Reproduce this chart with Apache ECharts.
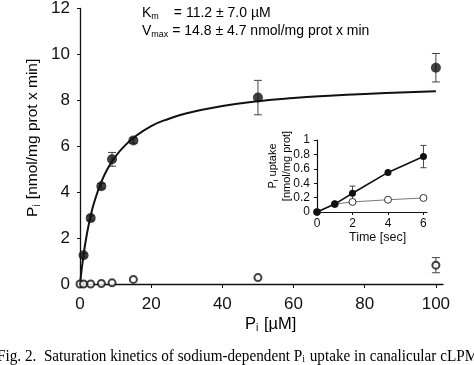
<!DOCTYPE html>
<html><head><meta charset="utf-8">
<script src="https://cdn.jsdelivr.net/npm/echarts@6/dist/echarts.min.js"></script>
<style>html,body{margin:0;padding:0;background:#fff}#c{width:474px;height:365px}</style>
</head><body><div id="c"></div>
<script>
// Main plot: Pi uptake vs Pi concentration
const substrateUM = [1, 3, 6, 9, 15, 50, 100];
const uptakeNa = [1.25, 2.87, 4.26, 5.43, 6.25, 8.12, 9.42];
const errNa = [0.08, 0.1, 0.12, 0.3, 0.12, 0.75, 0.62];
const openUM = [0, 1, 3, 6, 9, 15, 50, 100];
const uptakeNoNa = [0, 0, 0, 0.02, 0.05, 0.2, 0.28, 0.82];
const errNoNa = [0, 0, 0, 0, 0, 0, 0, 0.33];
const fitX = [0, 1, 2, 3, 4, 6, 8, 10, 12, 15, 20, 25, 30, 40, 50, 60, 70, 80, 90, 100];
const fitY = [0, 1.27, 2.23, 2.97, 3.56, 4.45, 5.09, 5.56, 5.93, 6.36, 6.88, 7.2, 7.44, 7.75, 7.96, 8.1, 8.2, 8.28, 8.34, 8.4];
const mainXTicks = [0, 20, 40, 60, 80, 100];
// Inset: time course
const timeSec = [0, 1, 2, 4, 6];
const insetNa = [0, 0.11, 0.26, 0.55, 0.77];
const insetNaErr = [0, 0, 0.1, 0, 0.155];
const insetNoNa = [0, 0.11, 0.14, 0.17, 0.195];
const insetXTicks = [0, 2, 4, 6];

const chart = echarts.init(document.getElementById('c'), null, {renderer: 'canvas'});
const FF = 'Liberation Sans, Arial, sans-serif';
const SERIF = 'Liberation Serif, Times New Roman, serif';

function errBars(xs, ys, es, xi, yi, half, color) {
  return {
    type: 'custom', xAxisIndex: xi, yAxisIndex: yi, z: 1, silent: true,
    data: xs.map((x, i) => [x, ys[i], es[i]]).filter(d => d[2] > 0),
    renderItem: function (params, api) {
      const x = api.value(0), y = api.value(1), e = api.value(2);
      const top = api.coord([x, y + e]);
      const bot = api.coord([x, y - e]);
      const st = {stroke: color, lineWidth: 1};
      return {type: 'group', children: [
        {type: 'line', shape: {x1: top[0], y1: top[1], x2: bot[0], y2: bot[1]}, style: st},
        {type: 'line', shape: {x1: top[0] - half, y1: top[1], x2: top[0] + half, y2: top[1]}, style: st},
        {type: 'line', shape: {x1: bot[0] - half, y1: bot[1], x2: bot[0] + half, y2: bot[1]}, style: st}
      ]};
    }
  };
}

const kmRich = {
  a: {fontFamily: FF, fontSize: 14, color: '#111'},
  s: {fontFamily: FF, fontSize: 9, color: '#111', padding: [7, 0, 0, 0]},
  k: {fontFamily: FF, fontSize: 9, color: '#111', padding: [7, 15, 0, 0]}
};
const insetRich = {
  a: {fontFamily: FF, fontSize: 11, color: '#111', lineHeight: 14},
  s: {fontFamily: FF, fontSize: 7.5, color: '#111', padding: [5, 0, 0, 0], lineHeight: 14}
};
const capRich = {
  a: {fontFamily: SERIF, fontSize: 16, color: '#222'},
  s: {fontFamily: SERIF, fontSize: 10.5, color: '#222', padding: [6, 1, 0, 0]}
};

const option = {
  backgroundColor: '#fff',
  animation: false,
  grid: [
    {left: 80, right: 31, top: 7, bottom: 81},
    {left: 317, right: 47, top: 140, bottom: 153}
  ],
  xAxis: [
    {gridIndex: 0, type: 'value', min: 0, max: 102,
      axisLine: {lineStyle: {color: '#111', width: 1.3}},
      axisTick: {customValues: mainXTicks, length: 4, lineStyle: {color: '#111'}},
      axisLabel: {customValues: mainXTicks, fontFamily: FF, fontSize: 17, color: '#111', margin: 12},
      splitLine: {show: false}},
    {gridIndex: 1, type: 'value', min: 0, max: 6.2,
      axisLine: {lineStyle: {color: '#111', width: 1.2}},
      axisTick: {customValues: insetXTicks, length: 3, lineStyle: {color: '#111'}},
      axisLabel: {customValues: insetXTicks, fontFamily: FF, fontSize: 12, color: '#111', margin: 6},
      splitLine: {show: false}}
  ],
  yAxis: [
    {gridIndex: 0, type: 'value', min: 0, max: 12, interval: 2,
      axisLine: {show: true, lineStyle: {color: '#111', width: 1.3}},
      axisTick: {show: true, length: 3, lineStyle: {color: '#111'}},
      axisLabel: {fontFamily: FF, fontSize: 17, color: '#111', margin: 10},
      splitLine: {show: false}},
    {gridIndex: 1, type: 'value', min: 0, max: 1, interval: 0.2,
      axisLine: {show: true, lineStyle: {color: '#111', width: 1.2}},
      axisTick: {show: true, length: 3, lineStyle: {color: '#111'}},
      axisLabel: {fontFamily: FF, fontSize: 12, color: '#111', margin: 7,
        formatter: v => (v === 0 || v === 1) ? String(v) : v.toFixed(1)},
      splitLine: {show: false}}
  ],
  series: [
    {type: 'line', xAxisIndex: 0, yAxisIndex: 0, smooth: true, showSymbol: false, z: 2,
      data: fitX.map((x, i) => [x, fitY[i]]), lineStyle: {color: '#111', width: 2}},
    errBars(substrateUM, uptakeNa, errNa, 0, 0, 4, '#444'),
    errBars(openUM, uptakeNoNa, errNoNa, 0, 0, 4, '#444'),
    {type: 'scatter', xAxisIndex: 0, yAxisIndex: 0, symbol: 'circle', symbolSize: 10, z: 4,
      data: substrateUM.map((x, i) => [x, uptakeNa[i]]), itemStyle: {color: '#111'}},
    {type: 'scatter', xAxisIndex: 0, yAxisIndex: 0, symbol: 'circle', symbolSize: 7, z: 4,
      data: openUM.map((x, i) => [x, uptakeNoNa[i]]),
      itemStyle: {color: '#fff', borderColor: '#111', borderWidth: 2}},
    errBars(timeSec, insetNa, insetNaErr, 1, 1, 3, '#444'),
    {type: 'line', xAxisIndex: 1, yAxisIndex: 1, symbol: 'circle', symbolSize: 7, z: 4,
      data: timeSec.map((x, i) => [x, insetNoNa[i]]),
      lineStyle: {color: '#777', width: 1},
      itemStyle: {color: '#fff', borderColor: '#333', borderWidth: 1}},
    {type: 'line', xAxisIndex: 1, yAxisIndex: 1, symbol: 'circle', symbolSize: 7, z: 5,
      data: timeSec.map((x, i) => [x, insetNa[i]]),
      lineStyle: {color: '#111', width: 1.6},
      itemStyle: {color: '#111'}}
  ],
  graphic: [
    {type: 'text', left: 142, top: 6, style: {text: '{a|K}{k|m}{a|= 11.2 ± 7.0 µM}', rich: kmRich}},
    {type: 'text', left: 142, top: 24, style: {text: '{a|V}{s|max}{a| = 14.8 ± 4.7 nmol/mg prot x min}', rich: kmRich}},
    {type: 'text', left: 245, top: 316, style: {text: '{a|P}{s|i}{a| [µM]}', rich: {
      a: {fontFamily: FF, fontSize: 16.5, color: '#111'},
      s: {fontFamily: FF, fontSize: 10.5, color: '#111', padding: [8, 1, 0, 0]}}}},
    {type: 'text', x: 24, y: 217, rotation: Math.PI / 2, style: {text: '{a|P}{s|i}{a| [nmol/mg prot x min]}', rich: {
      a: {fontFamily: FF, fontSize: 15.5, color: '#111'},
      s: {fontFamily: FF, fontSize: 10, color: '#111', padding: [8, 1, 0, 0]}}}},
    {type: 'text', x: 280, y: 166, rotation: Math.PI / 2, style: {text: '{a|P}{s|i}{a| uptake}\n{a|[nmol/mg prot]}', rich: insetRich, align: 'center', verticalAlign: 'middle'}},
    {type: 'text', left: 349, top: 231, style: {text: 'Time [sec]', fontFamily: FF, fontSize: 12.5, fill: '#111'}},
    {type: 'text', x: -3, y: 348, scaleX: 0.95, style: {text: '{a|Fig. 2.  Saturation kinetics of sodium-dependent P}{s|i}{a| uptake in canalicular cLPM}', rich: capRich}}
  ]
};
chart.setOption(option);
</script></body></html>
